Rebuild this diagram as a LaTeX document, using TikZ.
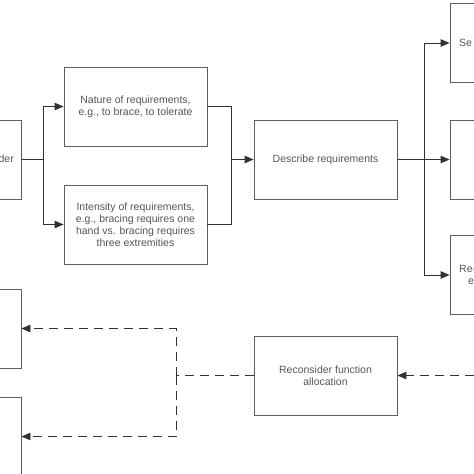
\documentclass[tikz,border=0pt]{standalone}
\usepackage{fontspec}
\setmainfont{Liberation Sans}
\usepackage{xcolor}
\usetikzlibrary{positioning,arrows.meta,calc}
\definecolor{boxline}{RGB}{95,95,95}
\definecolor{flowline}{RGB}{50,50,50}
\definecolor{txtgray}{RGB}{85,85,85}

\begin{document}
\begin{tikzpicture}[x=1pt, y=-1pt,
  stage/.style={draw=boxline, line width=0.9pt, minimum width=143pt,
    minimum height=79pt, inner sep=0pt, font=\fontsize{10.5}{12}\selectfont,
    align=center, text=txtgray},
  frag/.style={font=\fontsize{10.5}{12}\selectfont, text=txtgray, inner sep=0pt},
  link/.style={line width=0.9pt, flowline},
  arr/.style={-{Triangle[length=9pt,width=7.5pt]}, line width=0.9pt, flowline},
  back/.style={arr, dash pattern=on 9pt off 6pt},
]
  \useasboundingbox (0,0) rectangle (474,474);
  \clip (0,0) rectangle (474,474);

  \node[stage] (cons) at (-50.5,159.5) {};
  \node[stage] (nature) at (135.5,106.5)
    {Nature of requirements,\\e.g., to brace, to tolerate};
  \node[stage] (intens) at (135.5,224.5)
    {Intensity of requirements,\\e.g., bracing requires one\\hand vs. bracing requires\\three extremities};
  \node[stage] (desc) at (325.5,159.5) {Describe requirements};
  \node[stage] (selA) at (521.5,43) {};
  \node[stage] (selB) at (521.5,159.5) {};
  \node[stage] (selC) at (521.5,275) {};
  \node[stage] (recons) at (325.5,375.5)
    {Reconsider function\\allocation};
  \node[stage] (backA) at (-50.5,328.5) {};
  \node[stage] (backB) at (-50.5,436.5) {};

  \node[frag, anchor=east] (consTxt) at (14,159) {der};
  \node[frag, anchor=west] (selATxt) at (459,43) {Se};
  \node[frag, anchor=west] (selCTxt) at (459,269) {Re-};
  \node[frag, anchor=west] (selCTxtB) at (468,282) {e};

  \coordinate (forkA) at (43,159.5);
  \coordinate (join) at (231,159.5);
  \coordinate (forkB) at (424,159.5);
  \coordinate (forkC) at (176,375.5);
  \coordinate (inR) at (474,375.5);

  \draw[link] (cons.east) -- (forkA);
  \draw[arr] (forkA) |- (nature.west);
  \draw[arr] (forkA) |- (intens.west);

  \draw[link] (nature.east) -| (join);
  \draw[link] (intens.east) -| (join);
  \draw[arr] (join) -- (desc.west);

  \draw[link] (desc.east) -- (forkB);
  \draw[arr] (forkB) |- (selA.west);
  \draw[arr] (forkB) -- (selB.west);
  \draw[arr] (forkB) |- (selC.west);

  \draw[back] (inR) -- (recons.east);
  \draw[back, -] (recons.west) -- (forkC);
  \draw[back] (forkC) |- (backA.east);
  \draw[back] (forkC) |- (backB.east);
\end{tikzpicture}
\end{document}
